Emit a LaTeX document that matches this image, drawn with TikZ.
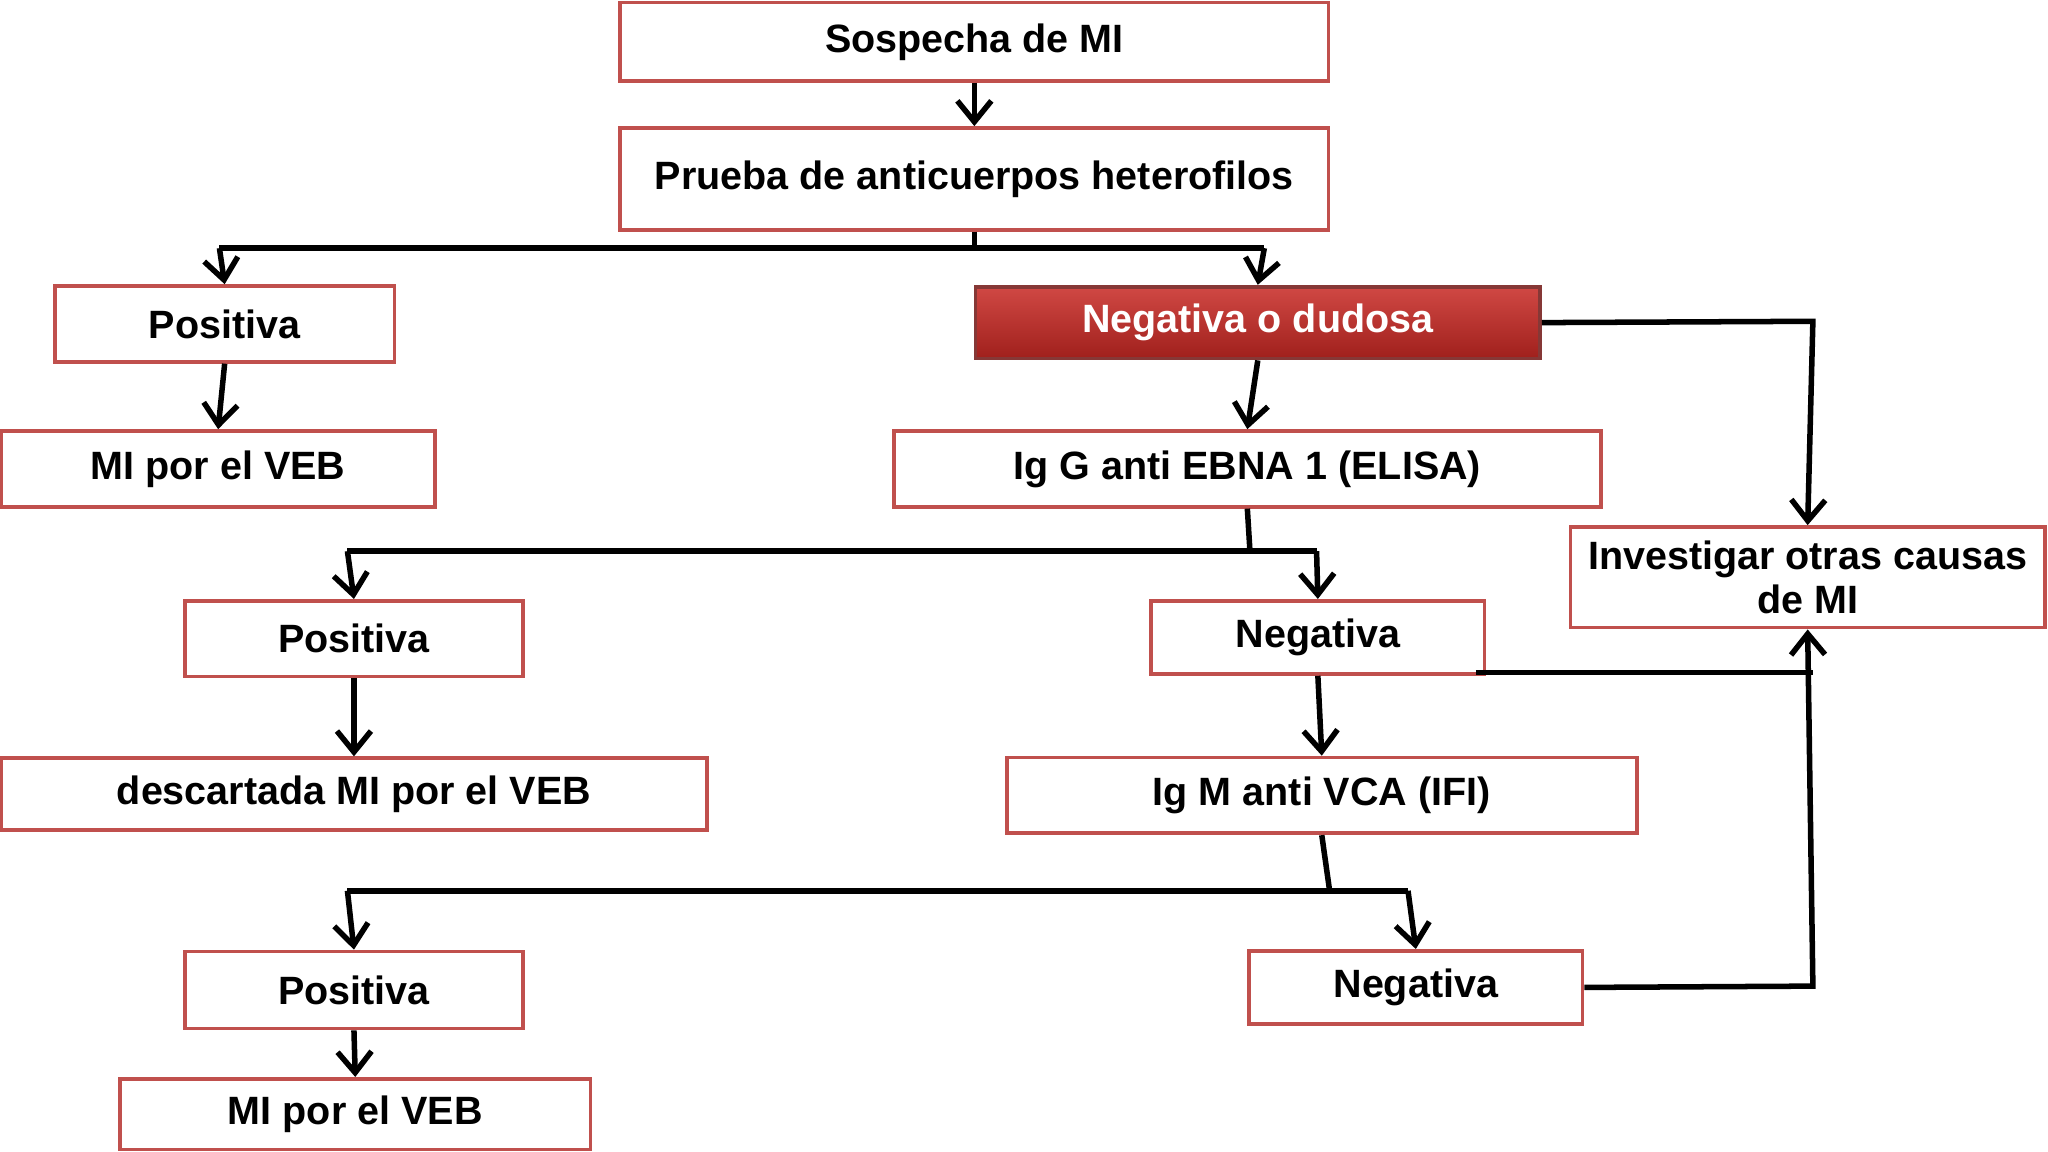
\documentclass[tikz,border=0pt]{standalone}
\usepackage{fontspec}
\setmainfont{Liberation Sans}
\usetikzlibrary{arrows.meta}
\definecolor{boxred}{RGB}{192,80,77}
\definecolor{fillred}{RGB}{200,40,35}
\tikzset{
  caja/.style={draw=boxred,line width=0.8pt,fill=white,font=\fontsize{8.6}{9.6}\selectfont\bfseries,
    inner sep=0pt,align=center},
  flecha/.style={line width=1.2pt,-{Straight Barb[length=1.6mm,width=2.6mm,line width=1.2pt]}},
  linea/.style={line width=1.2pt}
}
\begin{document}
\begin{tikzpicture}[x=0.01cm,y=-0.01cm]
  \useasboundingbox (0,0) rectangle (1568,882);
  % cajas
  \node[caja,minimum width=5.42cm,minimum height=0.6cm] (sosp) at (746,32) {Sospecha de MI};
  \node[caja,minimum width=5.42cm,minimum height=0.78cm] (prueba) at (746,137) {Prueba de anticuerpos heterofilos};
  \node[caja,minimum width=2.6cm,minimum height=0.58cm] (pos1) at (172,248) {Positiva};
  \node[caja,draw=boxred!70!black,top color=fillred!85,bottom color=fillred!80!black,text=white,
        minimum width=4.32cm,minimum height=0.55cm] (neg1) at (963,247) {Negativa o dudosa};
  \node[caja,minimum width=3.32cm,minimum height=0.58cm] (veb1) at (167,359) {MI por el VEB};
  \node[caja,minimum width=5.41cm,minimum height=0.58cm] (igg) at (955,359) {Ig G anti EBNA 1 (ELISA)};
  \node[caja,minimum width=3.63cm,minimum height=0.77cm] (otras) at (1384,442) {Investigar otras causas\\de MI};
  \node[caja,minimum width=2.59cm,minimum height=0.58cm] (pos2) at (271,489) {Positiva};
  \node[caja,minimum width=2.55cm,minimum height=0.56cm] (neg2) at (1009,488) {Negativa};
  \node[caja,minimum width=5.4cm,minimum height=0.55cm] (desc) at (271,608) {descartada MI por el VEB};
  \node[caja,minimum width=4.82cm,minimum height=0.58cm] (igm) at (1012,609) {Ig M anti VCA (IFI)};
  \node[caja,minimum width=2.59cm,minimum height=0.59cm] (pos3) at (271,758) {Positiva};
  \node[caja,minimum width=2.55cm,minimum height=0.56cm] (neg3) at (1084,756) {Negativa};
  \node[caja,minimum width=3.6cm,minimum height=0.54cm] (veb3) at (272,853) {MI por el VEB};
  % coordenadas de ramas
  \coordinate (r1) at (746,190);
  \coordinate (r1a) at (168,190);
  \coordinate (r1b) at (968,190);
  \coordinate (r2) at (957,422);
  \coordinate (r2a) at (266,422);
  \coordinate (r2b) at (1008,422);
  \coordinate (r3) at (1018,682);
  \coordinate (r3a) at (266,682);
  \coordinate (r3b) at (1078,682);
  \coordinate (d1) at (1388,246);
  \coordinate (d2) at (1388,755);
  \coordinate (d3) at (1388,515);
  \coordinate (n2e) at (1130,515);
  % conectores
  \draw[flecha] (sosp) -- (prueba);
  \draw[linea] (prueba.south) -- (r1);
  \draw[linea] (r1a) -- (r1b);
  \draw[flecha] (r1a) -- (pos1.north);
  \draw[flecha] (r1b) -- (neg1.north);
  \draw[flecha] (pos1.south) -- (veb1.north);
  \draw[flecha] (neg1.south) -- (igg.north);
  \draw[flecha] (neg1.east) -- (d1) -- (otras.north);
  \draw[linea] (igg.south) -- (r2);
  \draw[linea] (r2a) -- (r2b);
  \draw[flecha] (r2a) -- (pos2.north);
  \draw[flecha] (r2b) -- (neg2.north);
  \draw[flecha] (pos2.south) -- (desc.north);
  \draw[flecha] (neg2.south) -- (igm.north);
  \draw[linea] (n2e) -- (d3);
  \draw[linea] (igm.south) -- (r3);
  \draw[linea] (r3a) -- (r3b);
  \draw[flecha] (r3a) -- (pos3.north);
  \draw[flecha] (r3b) -- (neg3.north);
  \draw[flecha] (pos3.south) -- (veb3.north);
  \draw[flecha] (neg3.east) -- (d2) -- (otras.south);
\end{tikzpicture}
\end{document}
